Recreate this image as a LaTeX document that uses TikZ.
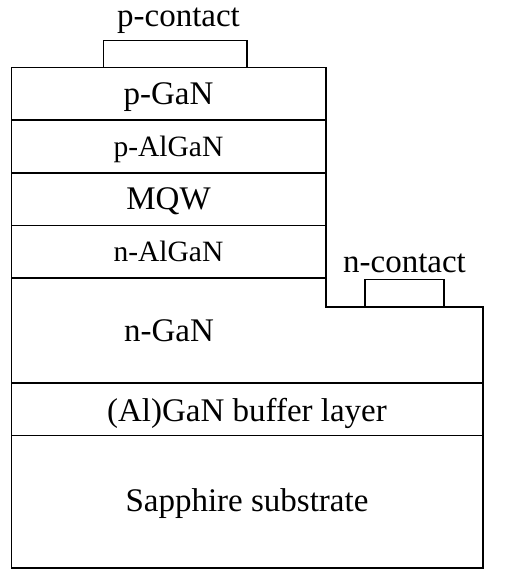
\documentclass[tikz,border=0pt]{standalone}
\usepackage{fontspec}
\setmainfont{Liberation Serif}
\begin{document}
\begin{tikzpicture}[x=1pt,y=-1pt,line width=1.1pt,line join=miter,
  big/.style={font=\fontsize{33}{33}\selectfont,inner sep=0pt,anchor=base},
  small/.style={font=\fontsize{29.5}{30}\selectfont,inner sep=0pt,anchor=base}]
\useasboundingbox (0,0) rectangle (506,584);
% upper stack
\draw (11.5,67.5) rectangle (326,278);
\draw (11.5,120) -- (326,120);
\draw (11.5,173) -- (326,173);
\draw (11.5,225.5) -- (326,225.5);
% lower part with step
\draw (11.5,278) -- (11.5,568) -- (483,568) -- (483,307) -- (326,307) -- (326,278);
\draw (11.5,383) -- (483,383);
\draw (11.5,435.5) -- (483,435.5);
% contacts
\draw (103.5,67.5) -- (103.5,40.5) -- (247,40.5) -- (247,67.5);
\draw (365,307) -- (365,279.5) -- (444,279.5) -- (444,307);
% labels
\node[big] (pc) at (178.5,26) {p-contact};
\node[big] (nc) at (404.5,272.5) {n-contact};
\node[big] (pgan) at (168.5,104.5) {p-GaN};
\node[small] (palgan) at (168.5,156) {p-AlGaN};
\node[big] (mqw) at (168.5,209) {MQW};
\node[small] (nalgan) at (168.5,261) {n-AlGaN};
\node[big] (ngan) at (169,341) {n-GaN};
\node[big] (buf) at (247,421.5) {(Al)GaN buffer layer};
\node[big] (sap) at (247,511.5) {Sapphire substrate};
\end{tikzpicture}
\end{document}
